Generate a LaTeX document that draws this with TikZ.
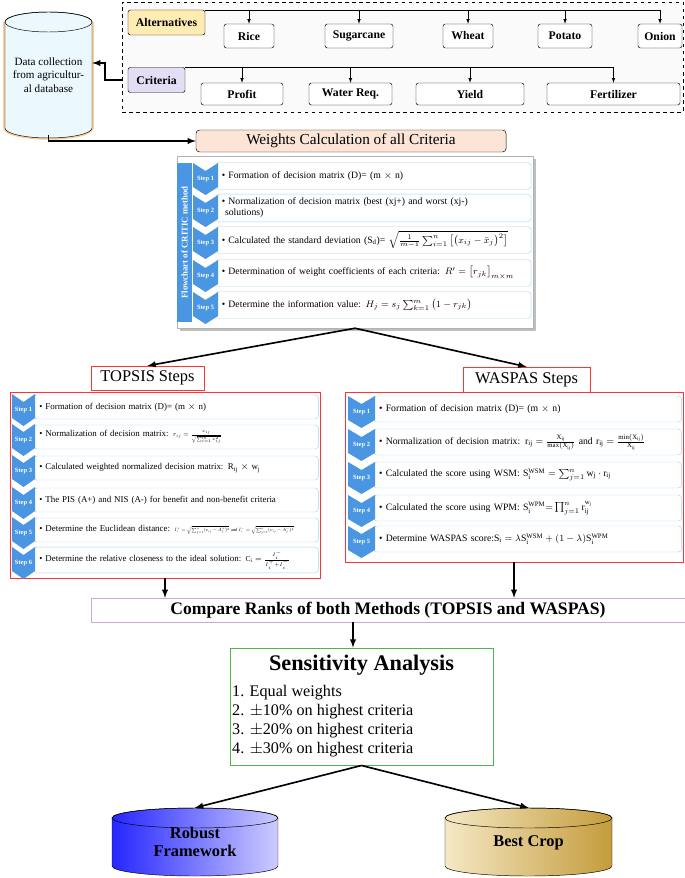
\documentclass[tikz,border=0pt]{standalone}
\usepackage{amsmath,amssymb}
\usepackage{fontspec}
\setmainfont{Liberation Serif}
\usepackage{xcolor}
\usetikzlibrary{arrows.meta,positioning,shadows,shapes.geometric,calc}
\definecolor{stepblue}{RGB}{74,150,226}
\definecolor{rowblue}{RGB}{170,212,240}
\definecolor{altfill}{RGB}{255,236,179}
\definecolor{critfill}{RGB}{228,222,245}
\definecolor{wfill}{RGB}{252,228,214}
\definecolor{croplight}{RGB}{245,232,196}
\definecolor{cropdark}{RGB}{196,156,60}
\tikzset{
	thick,
	>=latex,
	item/.style = {
			draw,
			rounded corners=2pt,
			fill=white,
			minimum height=0.72cm,
			font=\fontsize{10}{12}\selectfont\bfseries
		},
	steprow/.style = {
			draw=rowblue,
			rounded corners=3pt,
			fill=white,
			align=left,
			inner xsep=5pt,
			font=\fontsize{8.3}{9.5}\selectfont
		},
	panel/.style = {
			draw=red!80,
			thin
		},
	title/.style = {
			draw=red!80,
			font=\fontsize{14}{16}\selectfont,
			inner ysep=2pt
		}
}
% chevron: left x, centre y, width, label
\newcommand{\stepchev}[4]{
	\fill[stepblue] (#1,{#2-13}) -- ({#1+#3/2},{#2-5}) -- ({#1+#3},{#2-13})
		-- ({#1+#3},{#2+11}) -- ({#1+#3/2},{#2+19}) -- (#1,{#2+11}) -- cycle;
	\node[text=white,inner sep=0pt,font=\fontsize{5.5}{6}\selectfont\bfseries] at ({#1+#3/2},{#2+3}) {#4};
}
% cylinder: left x, right x, top y, bottom y, fill options
\newcommand{\drum}[5]{
	\draw[#5] (#1,#3) -- (#1,#4)
		arc[start angle=180,end angle=360,x radius={(#2-#1)*0.015cm},y radius=0.3cm]
		-- (#2,#3) arc[start angle=0,end angle=180,x radius={(#2-#1)*0.015cm},y radius=0.3cm];
	\draw ({(#1+#2)/2},#3) ellipse[x radius={(#2-#1)*0.015cm},y radius=0.3cm];
}

\begin{document}
\begin{tikzpicture}[x=0.03cm,y=-0.03cm]
    \useasboundingbox (0,0) rectangle (685,878);

    % data base
    \draw[orange!40,line width=3pt] (5,22) -- (5,128) arc[start angle=180,end angle=360,x radius=1.305cm,y radius=0.3cm] -- (92,22);
    \drum{5}{92}{22}{128}{fill=cyan!8}
    \node[align=center,font=\fontsize{9.5}{11.5}\selectfont,minimum width=2.61cm,minimum height=3.6cm]
      at (48.5,75) (dbase) {Data collection\\from agricultur-\\al database};

    % alternatives and criteria
    \node[draw,dashed,fill=gray!4,minimum width=16.83cm,minimum height=3.3cm] at (402.5,57) (inputs) {};
    \node[item,fill=altfill,minimum width=2.31cm,minimum height=0.75cm] at (166.5,22.5) (alt) {Alternatives};
    \node[item,minimum width=1.5cm] at (249,36) (rice) {Rice};
    \node[item,minimum width=2.04cm] at (359,36) (sugar) {Sugarcane};
    \node[item,minimum width=1.5cm] at (468,36) (wheat) {Wheat};
    \node[item,minimum width=1.62cm] at (565,36) (potato) {Potato};
    \node[item,minimum width=1.32cm] at (660,36) (onion) {Onion};
    \draw[thin] (alt.north east) -- (onion.north |- alt.north east);
    \foreach \n in {rice,sugar,wheat,potato,onion}
      \draw[thin,->] (\n.north |- alt.north east) -- (\n.north);

    \node[item,fill=critfill,minimum width=1.71cm,minimum height=0.75cm] at (156.5,80) (crit) {Criteria};
    \node[item,minimum width=2.46cm,minimum height=0.66cm] at (242,94) (profit) {Profit};
    \node[item,minimum width=2.49cm,minimum height=0.66cm] at (350.5,94) (water) {Water Req.};
    \node[item,minimum width=3.24cm,minimum height=0.66cm] at (470,94) (yield) {Yield};
    \node[item,minimum width=3.99cm,minimum height=0.66cm] at (613.5,94) (fert) {Fertilizer};
    \draw[thin] (crit.north east) -- (fert.north |- crit.north east);
    \foreach \n in {profit,water,yield,fert}
      \draw[thin,->] (\n.north |- crit.north east) -- (\n.north);

    \draw[->,line width=1.4pt] ([yshift=-0.69cm]inputs.west) -- ++(-17,0) |- ([yshift=0.36cm]dbase.east);

    % CRITIC
    \node[draw,rounded corners=3pt,fill=wfill,font=\fontsize{13}{15}\selectfont,minimum width=9.3cm,minimum height=0.66cm]
      at (351,141) (weights) {Weights Calculation of all Criteria};
    \draw[->,line width=1.4pt] (dbase.south) |- (weights.west);

    \node[draw=gray!60,fill=white,drop shadow,minimum width=10.68cm,minimum height=5.16cm] at (355,242) (critic) {};
    \node[fill=stepblue,text=white,rotate=90,font=\fontsize{7.5}{9}\selectfont\bfseries,minimum width=4.77cm,minimum height=0.45cm]
      at (184.5,242.5) (bar) {Flowchart of CRITIC method};
    \node[steprow,text width=9.1cm,minimum height=0.81cm] at (373.5,176) (c1) {\textbullet\ Formation of decision matrix (D)= (m $\times$ n)};
    \node[steprow,text width=9.1cm,minimum height=0.81cm] at (373.5,208) (c2) {\textbullet\ Normalization of decision matrix (best (xj+) and worst (xj-)\\ \ solutions)};
    \node[steprow,text width=9.1cm,minimum height=0.81cm] at (373.5,240) (c3) {\textbullet\ Calculated the standard deviation (S\textsubscript{d})= $\sqrt{\tfrac{1}{m-1}\sum_{i=1}^{n}\big[\big(x_{ij}-\bar{x}_j\big)^2\big]}$};
    \node[steprow,text width=9.1cm,minimum height=0.81cm] at (373.5,273) (c4) {\textbullet\ Determination of weight coefficients of each criteria: $R'=\big[r_{jk}\big]_{m\times m}$};
    \node[steprow,text width=9.1cm,minimum height=0.81cm] at (373.5,305) (c5) {\textbullet\ Determine the information value: $H_j=s_j\sum_{k=1}^{m}\big(1-r_{jk}\big)$};
    \foreach \i/\y in {1/176,2/208,3/240,4/273,5/305}
      \stepchev{193}{\y}{25}{Step \i};

    % TOPSIS and WASPAS
    \node[title,minimum width=3.39cm,minimum height=0.72cm] at (147.5,378) (topsis) {TOPSIS Steps};
    \node[title,minimum width=3.81cm,minimum height=0.75cm] at (526.5,379.5) (waspas) {WASPAS Steps};
    \draw[->,line width=1.4pt] (critic.south) -- (topsis.north);
    \draw[->,line width=1.4pt] (critic.south) -- (waspas.north);

    \node[panel,minimum width=9.3cm,minimum height=5.58cm] at (165,485) (tpanel) {};
    \begin{scope}[steprow/.append style={font=\fontsize{7.6}{9}\selectfont}]
    \node[steprow,text width=8.2cm,minimum height=0.72cm] at (176,407) (t1) {\textbullet\ Formation of decision matrix (D)= (m $\times$ n)};
    \node[steprow,text width=8.2cm,minimum height=0.72cm] at (176,437) (t2) {\textbullet\ Normalization of decision matrix: \scalebox{0.7}{$r_{ij}=\frac{x_{ij}}{\sqrt{\sum_{i=1}^{m}x_{ij}^2}}$}};
    \node[steprow,text width=8.2cm,minimum height=0.72cm] at (176,468) (t3) {\textbullet\ Calculated weighted normalized decision matrix: R\textsubscript{ij} $\times$ w\textsubscript{j}};
    \node[steprow,text width=8.2cm,minimum height=0.72cm] at (176,500) (t4) {\textbullet\ The PIS (A+) and NIS (A-) for benefit and non-benefit criteria};
    \node[steprow,text width=8.2cm,minimum height=0.72cm] at (176,530) (t5) {\textbullet\ Determine the Euclidean distance: \scalebox{0.5}{$I_i^+=\sqrt{\sum_{j=1}^{n}(v_{ij}-A_j^+)^2}$ and $I_i^-=\sqrt{\sum_{j=1}^{n}(v_{ij}-A_j^-)^2}$}};
    \node[steprow,text width=8.2cm,minimum height=0.72cm] at (176,560) (t6) {\textbullet\ Determine the relative closeness to the ideal solution: \scalebox{0.85}{$\mathrm{C_i}=\frac{I_i^-}{I_i^++I_i^-}$}};
    \end{scope}
    \foreach \i/\y in {1/407,2/437,3/468,4/500,5/530,6/560}
      \stepchev{12}{\y}{23}{Step \i};

    \node[panel,minimum width=10.14cm,minimum height=5.1cm] at (514,477) (wpanel) {};
    \node[steprow,text width=8.9cm,minimum height=0.78cm] at (527.5,409) (w1) {\textbullet\ Formation of decision matrix (D)= (m $\times$ n)};
    \node[steprow,text width=8.9cm,minimum height=0.78cm] at (527.5,442) (w2) {\textbullet\ Normalization of decision matrix: $\mathrm{r_{ij}}=\frac{\mathrm{X_{ij}}}{\mathrm{max(X_{ij})}}$ and $\mathrm{r_{ij}}=\frac{\mathrm{min(X_{ij})}}{\mathrm{X_{ij}}}$};
    \node[steprow,text width=8.9cm,minimum height=0.78cm] at (527.5,475) (w3) {\textbullet\ Calculated the score using WSM: $\mathrm{S_i^{WSM}}=\sum_{j=1}^{n}\mathrm{w_j}\cdot\mathrm{r_{ij}}$};
    \node[steprow,text width=8.9cm,minimum height=0.78cm] at (527.5,508) (w4) {\textbullet\ Calculated the score using WPM: $\mathrm{S_i^{WPM}}{=}\prod_{j=1}^{n}\mathrm{r_{ij}^{w_j}}$};
    \node[steprow,text width=8.9cm,minimum height=0.78cm] at (527.5,539) (w5) {\textbullet\ Determine WASPAS score:$\mathrm{S_i}=\lambda\mathrm{S_i^{WSM}}+(1-\lambda)\mathrm{S_i^{WPM}}$};
    \foreach \i/\y in {1/409,2/442,3/475,4/508,5/539}
      \stepchev{348}{\y}{27}{Step \i};

    % comparison and sensitivity
    \node[draw=violet!35,thin,font=\fontsize{15}{17}\selectfont\bfseries,minimum width=17.82cm,minimum height=0.72cm]
      at (388,610) (compare) {Compare Ranks of both Methods (TOPSIS and WASPAS)};
    \draw[->,line width=1.4pt] (tpanel.south) -- (tpanel.south |- compare.north);
    \draw[->,line width=1.4pt] (wpanel.south) -- (wpanel.south |- compare.north);

    \node[draw=green!60!black!70,line width=0.8pt,minimum width=7.89cm,minimum height=3.51cm] at (361.5,706.5) (sens) {};
    \draw[->,line width=1.4pt] (compare.south -| 353,0) -- (sens.north -| 353,0);
    \node[font=\fontsize{19}{22}\selectfont\bfseries] at (361.5,665) (senstitle) {Sensitivity Analysis};
    \node[anchor=north west,align=left,inner sep=0pt,font=\fontsize{13.8}{16.2}\selectfont] at (232,685) (senslist)
      {1. Equal weights\\2. $\pm$10\% on highest criteria\\3. $\pm$20\% on highest criteria\\4. $\pm$30\% on highest criteria};

    % outcomes
    \drum{112}{278}{818}{866}{left color=blue!85,right color=blue!20}
    \drum{445}{612}{818}{866}{left color=croplight,right color=cropdark}
    \node[align=center,font=\fontsize{14}{16}\selectfont\bfseries,minimum width=4.98cm,minimum height=2.04cm] at (195,842) (robust) {Robust\\Framework};
    \node[font=\fontsize{14}{16}\selectfont\bfseries,minimum width=5.01cm,minimum height=2.04cm] at (528.5,842) (crop) {\raisebox{-0.4cm}{Best Crop}};
    \draw[->,line width=1.4pt] (sens.south) -- (robust.north);
    \draw[->,line width=1.4pt] (sens.south) -- (crop.north);
  \end{tikzpicture}
\end{document}
